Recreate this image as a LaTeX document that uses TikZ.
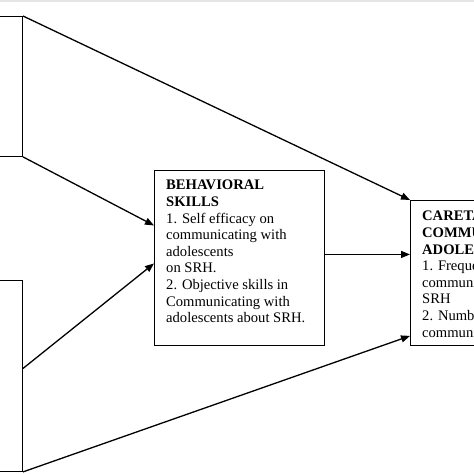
\documentclass[tikz,border=0pt]{standalone}
\usepackage{fontspec}
\setmainfont{Liberation Serif}
\usetikzlibrary{arrows.meta,positioning}

\begin{document}
\begin{tikzpicture}[x=1pt,y=-1pt,
   box/.style={draw,line width=0.9pt,inner sep=0},
   arr/.style={-{Triangle[length=9pt,width=7pt]},line width=1.3pt},
   txt/.style={align=left,inner sep=0,font=\fontsize{14.6}{16.6}\selectfont}]
   \useasboundingbox (0,0) rectangle (474,474);
   \clip (0,0) rectangle (474,474);
   \fill[gray!20] (0,0) rectangle (474,2);
   \node[box,minimum width=150pt,minimum height=140pt,anchor=north east] (info) at (23,16) {};
   \node[box,minimum width=150pt,minimum height=191pt,anchor=north east] (motiv) at (23,280) {};
   \node[box,minimum width=170pt,minimum height=175pt,anchor=north west] (skills) at (154,170) {};
   \node[box,minimum width=150pt,minimum height=145pt,anchor=north west] (care) at (410,200) {};
   \node[txt,anchor=north west] (skillstxt) at (166,180)
      {\textbf{BEHAVIORAL}\\ \textbf{SKILLS}\\ 1. Self efficacy on\\ communicating with\\
       adolescents\\ on SRH.\\ 2. Objective skills in\\ Communicating with\\ adolescents about SRH.};
   \node[txt,anchor=north west] (caretxt) at (422,211)
      {\textbf{CARETAKER}\\ \textbf{COMMUNICATION WITH}\\ \textbf{ADOLESCENTS}\\ 1. Frequency of\\
       communication on\\ SRH\\ 2. Number of\\ communication};
    \path[arr]
    (info.north east) edge (care.north west)
    (info.south east) edge ([yshift=32.5pt]skills.west)
    ([yshift=7.5pt]motiv.east) edge ([yshift=-5.5pt]skills.west)
    (motiv.south east) edge ([yshift=10pt]care.south west)
    ([yshift=3.5pt]skills.east) edge ([yshift=3.5pt]skills.east -| care.west);
\end{tikzpicture}
\end{document}
